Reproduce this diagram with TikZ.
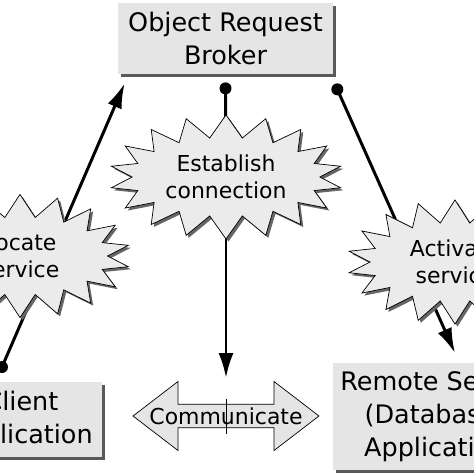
\documentclass[tikz,border=0pt]{standalone}
\usepackage{fontspec}
\setmainfont{DejaVu Sans}
\usetikzlibrary{shapes.symbols,shapes.arrows,shadows,arrows.meta,backgrounds,calc}

\begin{document}
\begin{tikzpicture}[x=0.02cm,y=-0.02cm]
	\tikzstyle{every node}+=[align=center, font=\fontsize{12.5}{15.5}\selectfont]
	\tikzstyle{box}=[fill=black!10, inner xsep=0.18cm,
		font=\fontsize{14.5}{18.7}\selectfont,
		drop shadow={shadow xshift=0.06cm, shadow yshift=-0.06cm, fill=black!65, opacity=1}]
	\tikzstyle{burst}=[starburst, starburst points=18, starburst point height=0.45cm,
		random starburst=0, draw=black, thin, fill=black!8,
		drop shadow={shadow xshift=0.05cm, shadow yshift=-0.05cm, fill=black!60, opacity=1}]
	\tikzstyle{link}=[line width=1.7pt, -{Latex[length=5mm,width=3mm]}]
	\clip (0,0) rectangle (474,474);
	% boxes
	\node [box, minimum width=4.3cm, minimum height=1.42cm] (orb) at (225.5,38.5) {Object Request\\Broker};
	\node [box, anchor=north east, minimum height=1.5cm] (client) at (102,382) {Client\\Application};
	\node [box, anchor=north west, minimum height=2.14cm, inner xsep=0.14cm] (remote) at (333,363) {Remote Server\\(Database)\\Application};
	% bursts
	\node [burst, minimum width=4.2cm, minimum height=2.3cm] (establish) at (226,177) {Establish\\connection};
	\node [burst, minimum width=4.4cm, minimum height=2.05cm] (locate) at (20,256) {Locate\\service};
	\node [burst, minimum width=4.3cm, minimum height=2.25cm] (activate) at (455,262) {Activate\\service};
	% double arrow
	\node [double arrow, draw=black, thin, fill=black!10, minimum height=3.72cm, minimum width=1.38cm,
		double arrow head extend=0.34cm, double arrow tip angle=75, inner sep=0pt] (comm) at (226,416) {Communicate};
	\draw [thin] ($(comm.center)+(0,-17.5)$) -- ($(comm.center)+(0,17.5)$);
	% connectors
	\coordinate (cdot) at ($(client.north east)+(-100,-15)$);
	\coordinate (otip) at ($(orb.south west)+(7,9)$);
	\coordinate (edot) at ($(orb.south)+(0,14)$);
	\coordinate (ctip) at ($(comm.center)+(0,-38)$);
	\coordinate (adot) at ($(orb.south east)+(4,15)$);
	\coordinate (rtip) at ($(remote.north west)+(122,-10)$);
	\begin{scope}[on background layer]
		\fill [white] (0,0) rectangle (474,474);
		\draw [link] (cdot) -- (otip);
		\draw [line width=1.7pt] (edot) -- (establish.center);
		\draw [link] (establish.center) -- (ctip);
		\draw [link] (adot) -- (rtip);
	\end{scope}
	\fill (cdot) circle (0.12cm);
	\fill (edot) circle (0.12cm);
	\fill (adot) circle (0.12cm);
\end{tikzpicture}
\end{document}
